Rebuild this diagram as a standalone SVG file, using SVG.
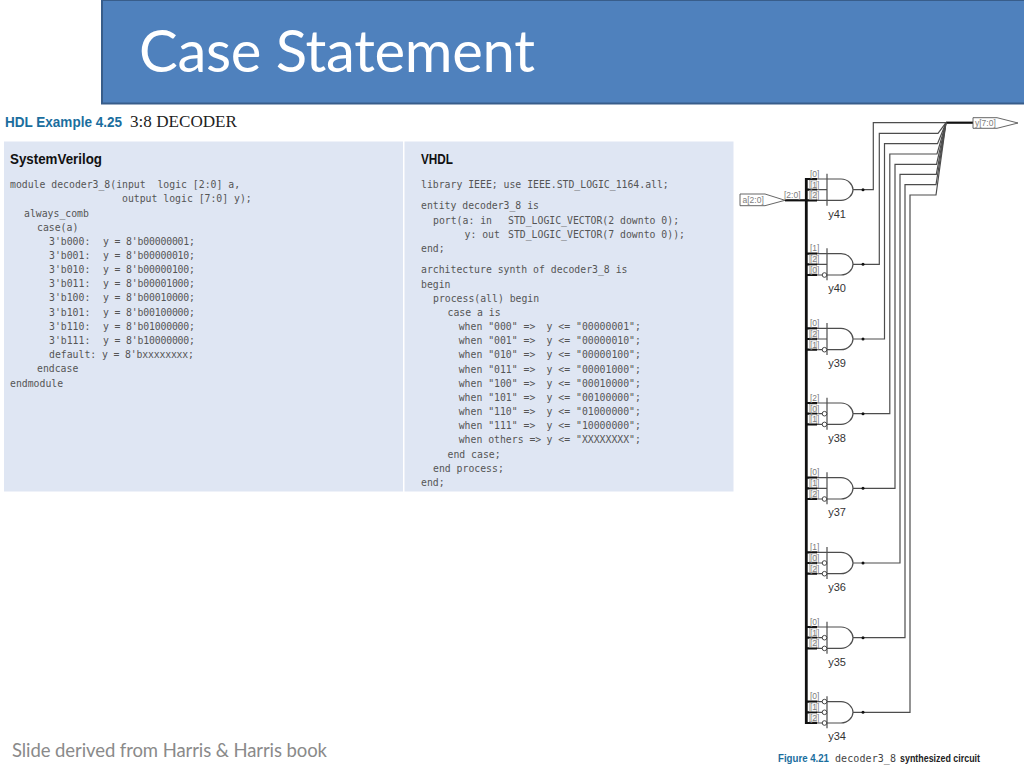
<svg xmlns="http://www.w3.org/2000/svg" width="1024" height="768" viewBox="0 0 1024 768">
<style>
.c{font-family:"DejaVu Sans Mono","Liberation Mono",monospace;font-size:9.8px;fill:#555;white-space:pre}
.h{font-family:"Liberation Sans",Arial,sans-serif;font-size:15.500px;font-weight:bold;fill:#111}
.l{font-family:"Liberation Sans",Arial,sans-serif;font-size:8.5px;fill:#7d7d7d}
.n{font-family:"Liberation Sans",Arial,sans-serif;font-size:11px;fill:#333;text-anchor:middle}
.w{fill:none;stroke:#4d4d4d;stroke-width:1.2}
.b{fill:none;stroke:#111;stroke-width:2.2}
.f{font-family:"Liberation Sans",Arial,sans-serif;font-size:10.5px;font-weight:bold}
.i{fill:#fff;stroke:#333;stroke-width:.9}
.bx{fill:#f4f4f4;stroke:#999;stroke-width:.5}
</style>
<defs>
<g id="gate">
<path class="b" d="M806 -10.700H817M806 0H817M806 10.700H817"/>
<rect class="bx" x="809.500" y="-9.500" width="7" height="8.500"/>
<rect class="bx" x="809.500" y="1" width="7" height="8.500"/>
<path class="w" d="M817 -10.700H827M817 0H827M817 10.700H827M827 -16V16M827 -10.700H841C848 -10.700 853 -5 853 0C853 5 848 10.700 841 10.700H827M853 0H863"/>
<circle cx="863" cy="0" r="1.500" fill="#111"/>
</g>
</defs>
<rect width="1024" height="768" fill="#fff"/>
<g id="title">
<rect x="102" y="0" width="924" height="103.500" fill="#4f81bd" stroke="#385d8a" stroke-width="2"/>
<text x="139" y="71.500" font-family="Lato,sans-serif" font-size="58" fill="#fff" textLength="396">Case Statement</text>
</g>
<text x="5" y="127" font-family="Liberation Sans,sans-serif" font-size="15.500" font-weight="bold" fill="#1a6e9e" textLength="117" lengthAdjust="spacingAndGlyphs">HDL Example 4.25</text>
<text x="130" y="127" font-family="Liberation Serif,serif" font-size="17" fill="#222" textLength="107" lengthAdjust="spacingAndGlyphs">3:8 DECODER</text>
<g id="systemverilog">
<rect x="4" y="141.500" width="399" height="350" fill="#dfe6f3"/>
<text class="h" x="10" y="163.500" textLength="92" lengthAdjust="spacingAndGlyphs">SystemVerilog</text>
<text class="c" x="10" y="188">module decoder3_8(input  logic [2:0] a,</text>
<text class="c" x="122" y="202">output logic [7:0] y);</text>
<text class="c" x="24" y="216.500">always_comb</text>
<text class="c" x="37" y="230.500">case(a)</text>
<text class="c" x="49" y="244.700">3'b000:</text><text class="c" x="103" y="244.700" textLength="92">y = 8'b00000001;</text>
<text class="c" x="49" y="258.900">3'b001:</text><text class="c" x="103" y="258.900" textLength="92">y = 8'b00000010;</text>
<text class="c" x="49" y="273">3'b010:</text><text class="c" x="103" y="273" textLength="92">y = 8'b00000100;</text>
<text class="c" x="49" y="287.200">3'b011:</text><text class="c" x="103" y="287.200" textLength="92">y = 8'b00001000;</text>
<text class="c" x="49" y="301.300">3'b100:</text><text class="c" x="103" y="301.300" textLength="92">y = 8'b00010000;</text>
<text class="c" x="49" y="315.500">3'b101:</text><text class="c" x="103" y="315.500" textLength="92">y = 8'b00100000;</text>
<text class="c" x="49" y="329.700">3'b110:</text><text class="c" x="103" y="329.700" textLength="92">y = 8'b01000000;</text>
<text class="c" x="49" y="343.800">3'b111:</text><text class="c" x="103" y="343.800" textLength="92">y = 8'b10000000;</text>
<text class="c" x="49" y="358">default:</text><text class="c" x="102" y="358" textLength="92">y = 8'bxxxxxxxx;</text>
<text class="c" x="37" y="372.200">endcase</text>
<text class="c" x="10" y="386.500">endmodule</text>
</g>
<g id="vhdl">
<rect x="404.500" y="141.500" width="329" height="350" fill="#dfe6f3"/>
<text class="h" x="421" y="163.500" textLength="32" lengthAdjust="spacingAndGlyphs">VHDL</text>
<text class="c" x="421" y="188.300">library IEEE; use IEEE.STD_LOGIC_1164.all;</text>
<text class="c" x="421" y="209.300">entity decoder3_8 is</text>
<text class="c" x="433" y="223.500">port(a: in</text><text class="c" x="508" y="223.500">STD_LOGIC_VECTOR(2 downto 0);</text>
<text class="c" x="464.500" y="237.700">y: out</text><text class="c" x="508" y="237.700">STD_LOGIC_VECTOR(7 downto 0));</text>
<text class="c" x="421" y="251.700">end;</text>
<text class="c" x="421" y="273.300">architecture synth of decoder3_8 is</text>
<text class="c" x="421" y="287.500">begin</text>
<text class="c" x="433" y="301.700">process(all) begin</text>
<text class="c" x="447.500" y="316">case a is</text>
<text class="c" x="458.700" y="330">when "000" =&gt;</text><text class="c" x="546.500" y="330">y &lt;= "00000001";</text>
<text class="c" x="458.700" y="344.200">when "001" =&gt;</text><text class="c" x="546.500" y="344.200">y &lt;= "00000010";</text>
<text class="c" x="458.700" y="358.300">when "010" =&gt;</text><text class="c" x="546.500" y="358.300">y &lt;= "00000100";</text>
<text class="c" x="458.700" y="372.500">when "011" =&gt;</text><text class="c" x="546.500" y="372.500">y &lt;= "00001000";</text>
<text class="c" x="458.700" y="386.700">when "100" =&gt;</text><text class="c" x="546.500" y="386.700">y &lt;= "00010000";</text>
<text class="c" x="458.700" y="400.900">when "101" =&gt;</text><text class="c" x="546.500" y="400.900">y &lt;= "00100000";</text>
<text class="c" x="458.700" y="415">when "110" =&gt;</text><text class="c" x="546.500" y="415">y &lt;= "01000000";</text>
<text class="c" x="458.700" y="429.200">when "111" =&gt;</text><text class="c" x="546.500" y="429.200">y &lt;= "10000000";</text>
<text class="c" x="458.700" y="443.300">when others =&gt;</text><text class="c" x="546.500" y="443.300">y &lt;= "XXXXXXXX";</text>
<text class="c" x="447.500" y="457.500">end case;</text>
<text class="c" x="433" y="471.600">end process;</text>
<text class="c" x="421" y="485.700">end;</text>
</g>
<g id="connectors">
<path d="M806.300 178V724" fill="none" stroke="#111" stroke-width="2.800"/>
<path d="M785 200.300H806" fill="none" stroke="#111" stroke-width="2.200"/>
<path d="M946 122.700H973" fill="none" stroke="#111" stroke-width="2.200"/>
<path class="w" d="M863 189.700H873.300V122.700H946"/>
<path class="w" d="M863 264.300H879.300V133.300H938L946 122.700"/>
<path class="w" d="M863 339H884.500V143.700H937.500L946 122.700"/>
<path class="w" d="M863 413.700H889.800V154H937L946 122.700"/>
<path class="w" d="M863 488.300H895V164.300H936.500L946 122.700"/>
<path class="w" d="M863 563H900V174.300H936.300L946 122.700"/>
<path class="w" d="M863 637.700H905V184.700H936L946 122.700"/>
<path class="w" d="M863 712.300H910V195H936L946 122.700"/>
</g>
<g id="a-in">
<path d="M740 194H765L785 200.300L765 205.700H740Z" fill="#fff" stroke="#555" stroke-width=".9"/>
<text class="l" x="742.500" y="203">a[2:0]</text>
<text class="l" x="784" y="197.500">[2:0]</text>
</g>
<g id="y-out">
<path d="M973 117.700H997L1018 123L997 128.300H973Z" fill="#fff" stroke="#555" stroke-width=".9"/>
<text class="l" x="975" y="126">y[7:0]</text>
</g>
<g id="y41" transform="translate(0,189.700)"><use href="#gate"/>
<text class="l" x="810" y="-13">[0]</text><text class="l" x="810" y="-2">[1]</text><text class="l" x="810" y="8.500">[2]</text>
<text class="n" x="837" y="28">y41</text></g>
<g id="y40" transform="translate(0,264.300)"><use href="#gate"/><circle class="i" cx="824.500" cy="10.700" r="2.300"/>
<text class="l" x="810" y="-13">[1]</text><text class="l" x="810" y="-2">[2]</text><text class="l" x="810" y="8.500">[0]</text>
<text class="n" x="837" y="28">y40</text></g>
<g id="y39" transform="translate(0,339)"><use href="#gate"/><circle class="i" cx="824.500" cy="10.700" r="2.300"/>
<text class="l" x="810" y="-13">[0]</text><text class="l" x="810" y="-2">[2]</text><text class="l" x="810" y="8.500">[1]</text>
<text class="n" x="837" y="28">y39</text></g>
<g id="y38" transform="translate(0,413.700)"><use href="#gate"/><circle class="i" cx="824.500" cy="0" r="2.300"/><circle class="i" cx="824.500" cy="10.700" r="2.300"/>
<text class="l" x="810" y="-13">[2]</text><text class="l" x="810" y="-2">[0]</text><text class="l" x="810" y="8.500">[1]</text>
<text class="n" x="837" y="28">y38</text></g>
<g id="y37" transform="translate(0,488.300)"><use href="#gate"/><circle class="i" cx="824.500" cy="10.700" r="2.300"/>
<text class="l" x="810" y="-13">[0]</text><text class="l" x="810" y="-2">[1]</text><text class="l" x="810" y="8.500">[2]</text>
<text class="n" x="837" y="28">y37</text></g>
<g id="y36" transform="translate(0,563)"><use href="#gate"/><circle class="i" cx="824.500" cy="0" r="2.300"/><circle class="i" cx="824.500" cy="10.700" r="2.300"/>
<text class="l" x="810" y="-13">[1]</text><text class="l" x="810" y="-2">[0]</text><text class="l" x="810" y="8.500">[2]</text>
<text class="n" x="837" y="28">y36</text></g>
<g id="y35" transform="translate(0,637.700)"><use href="#gate"/><circle class="i" cx="824.500" cy="0" r="2.300"/><circle class="i" cx="824.500" cy="10.700" r="2.300"/>
<text class="l" x="810" y="-13">[0]</text><text class="l" x="810" y="-2">[1]</text><text class="l" x="810" y="8.500">[2]</text>
<text class="n" x="837" y="28">y35</text></g>
<g id="y34" transform="translate(0,712.300)"><use href="#gate"/><circle class="i" cx="824.500" cy="-10.700" r="2.300"/><circle class="i" cx="824.500" cy="0" r="2.300"/><circle class="i" cx="824.500" cy="10.700" r="2.300"/>
<text class="l" x="810" y="-13">[0]</text><text class="l" x="810" y="-2">[1]</text><text class="l" x="810" y="8.500">[2]</text>
<text class="n" x="837" y="28">y34</text></g>
<text class="f" x="778" y="761.500" fill="#1a6e9e" textLength="51" lengthAdjust="spacingAndGlyphs">Figure 4.21</text>
<text x="835" y="761.500" font-family="DejaVu Sans Mono,monospace" font-size="10" fill="#444" textLength="61">decoder3_8</text>
<text class="f" x="900" y="761.500" fill="#222" textLength="80" lengthAdjust="spacingAndGlyphs">synthesized circuit</text>
<text x="12" y="757" font-family="Lato,sans-serif" font-size="18.500" fill="#8a8a8a" textLength="315">Slide derived from Harris &amp; Harris book</text>
</svg>
